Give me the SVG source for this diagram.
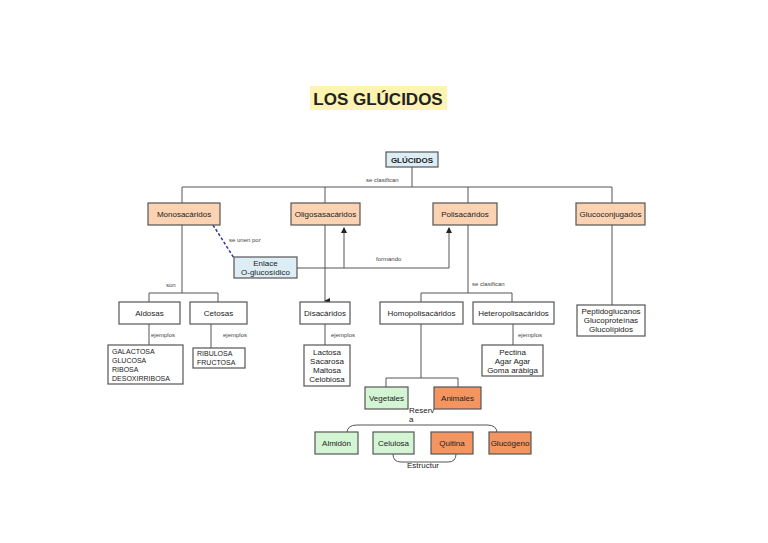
<svg xmlns="http://www.w3.org/2000/svg" width="768" height="543" viewBox="0 0 768 543">
<style>
text{font-family:"Liberation Sans",Arial,sans-serif;fill:#222}
.b{stroke:#555;stroke-width:1.2}
.o{fill:#fbd3b3}.g{fill:#d4f5d4}.r{fill:#f4945f}.w{fill:#fff}.bl{fill:#dcedf5}
.t{font-size:8px;text-anchor:middle}
.s{font-size:6px;fill:#444}
.l{stroke:#555;stroke-width:1;fill:none}
</style>
<defs><marker id="a" markerWidth="6" markerHeight="6" refX="3" refY="5" orient="auto-start-reverse" markerUnits="userSpaceOnUse"><path d="M0,0 L6,0 L3,6z" fill="#222"/></marker>
<marker id="u" markerWidth="6" markerHeight="6" refX="3" refY="1" orient="0" markerUnits="userSpaceOnUse"><path d="M0,6 L6,6 L3,0z" fill="#222"/></marker></defs>
<rect x="310" y="86" width="137" height="24" fill="#fcf4b0"/>
<text x="378" y="105" font-size="17" font-weight="bold" text-anchor="middle" fill="#111">LOS GLÚCIDOS</text>
<g id="connectors">
<path class="l" d="M412,167V187M182,187H612M182,187V203M325,187V203M468,187V203M612,187V203"/>
<path class="l" d="M182,225V293M149,293H218M149,293V302M218,293V302"/>
<path d="M213,225L234,258" stroke="#33339a" stroke-width="1.5" stroke-dasharray="3,2" fill="none"/>
<path class="l" d="M297,268H449"/>
<path class="l" d="M344,268V228" marker-end="url(#u)"/>
<path class="l" d="M449,268V228" marker-end="url(#u)"/>
<path class="l" d="M325,225V301" marker-end="url(#a)"/>
<path class="l" d="M468,225V293M421,293H512M421,293V302M512,293V302"/>
<path class="l" d="M612,225V305"/>
<path class="l" d="M149,324V345M211,324V348M325,324V345M513,324V345"/>
<path class="l" d="M421,324V378M386,378H458M386,378V387M458,378V387"/>
<path class="l" d="M347,432V433Q347,425 357,425H487Q497,425 497,433V432"/>
<path class="l" d="M393,454Q393,462 401,462H448Q456,462 456,454"/>
</g>
<text class="s" x="366" y="182">se clasifican</text>
<text class="s" x="229" y="242">se unen por</text>
<text class="s" x="376" y="261">formando</text>
<text class="s" x="166" y="287">son</text>
<text class="s" x="472" y="286">se clasifican</text>
<text class="s" x="151" y="337">ejemplos</text>
<text class="s" x="223" y="337">ejemplos</text>
<text class="s" x="331" y="337">ejemplos</text>
<text class="s" x="518" y="337">ejemplos</text>
<text x="409" y="413" font-size="8">Reserv</text>
<text x="409" y="422" font-size="8">a</text>
<text x="407" y="468" font-size="8">Estructur</text>
<g id="n-glucidos"><rect class="b bl" x="386" y="152" width="52" height="15"/><text class="t" x="412" y="162.5" font-weight="bold">GLÚCIDOS</text></g>
<g id="n-mono"><rect class="b o" x="148" y="203" width="72" height="22"/><text class="t" x="184" y="217">Monosacáridos</text></g>
<g id="n-oligo"><rect class="b o" x="291" y="203" width="69" height="22"/><text class="t" x="325.5" y="217">Oligosasacáridos</text></g>
<g id="n-poli"><rect class="b o" x="433" y="203" width="64" height="22"/><text class="t" x="465" y="217">Polisacáridos</text></g>
<g id="n-gluco"><rect class="b o" x="576" y="203" width="69" height="22"/><text class="t" x="610.5" y="217">Glucoconjugados</text></g>
<g id="n-enlace"><rect class="b bl" x="234" y="257" width="63" height="21"/><text class="t" x="265.5" y="266">Enlace</text><text class="t" x="265.5" y="275">O-glucosídico</text></g>
<g id="n-aldosas"><rect class="b w" x="119" y="302" width="61" height="22"/><text class="t" x="149.5" y="316">Aldosas</text></g>
<g id="n-cetosas"><rect class="b w" x="190" y="302" width="57" height="22"/><text class="t" x="218.5" y="316">Cetosas</text></g>
<g id="n-disac"><rect class="b w" x="300" y="302" width="50" height="22"/><text class="t" x="325" y="316">Disacáridos</text></g>
<g id="n-homo"><rect class="b w" x="380" y="302" width="83" height="22"/><text class="t" x="421.5" y="316">Homopolisacáridos</text></g>
<g id="n-hetero"><rect class="b w" x="473" y="302" width="81" height="22"/><text class="t" x="513.5" y="316">Heteropolisacáridos</text></g>
<g id="n-peptido"><rect class="b w" x="577" y="305" width="68" height="31"/><text class="t" x="611" y="314" font-size="7">Peptidoglucanos</text><text class="t" x="611" y="323" font-size="7">Glucoproteínas</text><text class="t" x="611" y="332" font-size="7">Glucolípidos</text></g>
<g id="n-aldo-ej"><rect class="b w" x="108" y="345" width="75" height="39"/><text x="112" y="354" font-size="7">GALACTOSA</text><text x="112" y="363" font-size="7">GLUCOSA</text><text x="112" y="372" font-size="7">RIBOSA</text><text x="112" y="381" font-size="7">DESOXIRRIBOSA</text></g>
<g id="n-ceto-ej"><rect class="b w" x="193" y="348" width="52" height="20"/><text x="197" y="356" font-size="7">RIBULOSA</text><text x="197" y="365" font-size="7">FRUCTOSA</text></g>
<g id="n-disac-ej"><rect class="b w" x="304" y="345" width="46" height="41"/><text class="t" x="327" y="355" font-size="7">Lactosa</text><text class="t" x="327" y="364" font-size="7">Sacarosa</text><text class="t" x="327" y="373" font-size="7">Maltosa</text><text class="t" x="327" y="382" font-size="7">Celobiosa</text></g>
<g id="n-hetero-ej"><rect class="b w" x="482" y="345" width="61" height="31"/><text class="t" x="512.5" y="355" font-size="7">Pectina</text><text class="t" x="512.5" y="364" font-size="7">Agar Agar</text><text class="t" x="512.5" y="373" font-size="7">Goma arábiga</text></g>
<g id="n-veg"><rect class="b g" x="365" y="387" width="43" height="22"/><text class="t" x="386.5" y="401">Vegetales</text></g>
<g id="n-ani"><rect class="b r" x="434" y="387" width="47" height="22"/><text class="t" x="457.5" y="401">Animales</text></g>
<g id="n-almidon"><rect class="b g" x="315" y="432" width="43" height="22"/><text class="t" x="336.5" y="446">Almidón</text></g>
<g id="n-celulosa"><rect class="b g" x="373" y="432" width="41" height="22"/><text class="t" x="393.5" y="446">Celulosa</text></g>
<g id="n-quitina"><rect class="b r" x="431" y="432" width="42" height="22"/><text class="t" x="452" y="446">Quitina</text></g>
<g id="n-glucogeno"><rect class="b r" x="489" y="432" width="42" height="22"/><text class="t" x="510" y="446">Glucógeno</text></g>
</svg>
